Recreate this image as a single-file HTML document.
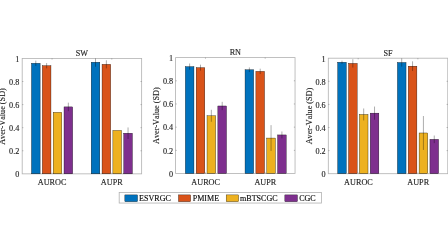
<!DOCTYPE html>
<html><head><meta charset="utf-8"><title>Chart</title>
<style>html,body{margin:0;padding:0;background:#fff;}body{width:448px;height:252px;overflow:hidden;}svg{display:block;}</style>
</head><body>
<svg width="448" height="252" viewBox="0 0 448 252" font-family="'Liberation Serif', serif" font-size="8.2" fill="#262626" style="font-kerning:none" stroke="none">
<rect width="448" height="252" fill="#fff"/>
<style>text{stroke:#262626;stroke-width:0.14px;stroke-linejoin:round}</style>
<rect x="31.46" y="63.28" width="8.65" height="110.57" fill="#0072BD" stroke="#000" stroke-width="0.33"/>
<rect x="42.31" y="65.70" width="8.65" height="108.15" fill="#D95319" stroke="#000" stroke-width="0.33"/>
<rect x="53.16" y="112.32" width="8.65" height="61.53" fill="#EDB120" stroke="#000" stroke-width="0.33"/>
<rect x="64.01" y="106.90" width="8.65" height="66.95" fill="#7E2F8E" stroke="#000" stroke-width="0.33"/>
<line x1="35.79" y1="60.62" x2="35.79" y2="65.93" stroke="#000" stroke-width="0.33"/>
<line x1="46.64" y1="63.05" x2="46.64" y2="68.36" stroke="#000" stroke-width="0.33"/>
<line x1="68.34" y1="102.63" x2="68.34" y2="111.17" stroke="#000" stroke-width="0.33"/>
<rect x="91.19" y="62.24" width="8.65" height="111.61" fill="#0072BD" stroke="#000" stroke-width="0.33"/>
<rect x="102.04" y="64.32" width="8.65" height="109.53" fill="#D95319" stroke="#000" stroke-width="0.33"/>
<rect x="112.89" y="130.44" width="8.65" height="43.41" fill="#EDB120" stroke="#000" stroke-width="0.33"/>
<rect x="123.74" y="133.21" width="8.65" height="40.64" fill="#7E2F8E" stroke="#000" stroke-width="0.33"/>
<line x1="95.51" y1="58.40" x2="95.51" y2="66.74" stroke="#000" stroke-width="0.33"/>
<line x1="106.36" y1="60.28" x2="106.36" y2="68.36" stroke="#000" stroke-width="0.33"/>
<line x1="128.06" y1="127.44" x2="128.06" y2="138.98" stroke="#000" stroke-width="0.33"/>
<rect x="22.20" y="58.40" width="119.45" height="115.45" fill="none" stroke="#262626" stroke-width="0.8" stroke-opacity="0.36"/>
<text x="19.30" y="177.15" text-anchor="end">0</text>
<line x1="22.20" y1="150.76" x2="23.40" y2="150.76" stroke="#262626" stroke-width="0.8" stroke-opacity="0.36"/>
<line x1="141.65" y1="150.76" x2="140.45" y2="150.76" stroke="#262626" stroke-width="0.8" stroke-opacity="0.36"/>
<text x="19.30" y="154.06" text-anchor="end">0.2</text>
<line x1="22.20" y1="127.67" x2="23.40" y2="127.67" stroke="#262626" stroke-width="0.8" stroke-opacity="0.36"/>
<line x1="141.65" y1="127.67" x2="140.45" y2="127.67" stroke="#262626" stroke-width="0.8" stroke-opacity="0.36"/>
<text x="19.30" y="130.97" text-anchor="end">0.4</text>
<line x1="22.20" y1="104.58" x2="23.40" y2="104.58" stroke="#262626" stroke-width="0.8" stroke-opacity="0.36"/>
<line x1="141.65" y1="104.58" x2="140.45" y2="104.58" stroke="#262626" stroke-width="0.8" stroke-opacity="0.36"/>
<text x="19.30" y="107.88" text-anchor="end">0.6</text>
<line x1="22.20" y1="81.49" x2="23.40" y2="81.49" stroke="#262626" stroke-width="0.8" stroke-opacity="0.36"/>
<line x1="141.65" y1="81.49" x2="140.45" y2="81.49" stroke="#262626" stroke-width="0.8" stroke-opacity="0.36"/>
<text x="19.30" y="84.79" text-anchor="end">0.8</text>
<text x="19.30" y="61.70" text-anchor="end">1</text>
<line x1="52.06" y1="58.40" x2="52.06" y2="59.60" stroke="#262626" stroke-width="0.8" stroke-opacity="0.36"/>
<line x1="52.06" y1="173.85" x2="52.06" y2="172.65" stroke="#262626" stroke-width="0.8" stroke-opacity="0.36"/>
<text x="52.06" y="185.1" text-anchor="middle">AUROC</text>
<line x1="111.79" y1="58.40" x2="111.79" y2="59.60" stroke="#262626" stroke-width="0.8" stroke-opacity="0.36"/>
<line x1="111.79" y1="173.85" x2="111.79" y2="172.65" stroke="#262626" stroke-width="0.8" stroke-opacity="0.36"/>
<text x="111.79" y="185.1" text-anchor="middle">AUPR</text>
<text x="81.92" y="56.0" text-anchor="middle">SW</text>
<text transform="translate(5.25,116.53) rotate(-90)" text-anchor="middle">Aver-Value (SD)</text>
<rect x="185.31" y="66.62" width="8.65" height="106.93" fill="#0072BD" stroke="#000" stroke-width="0.33"/>
<rect x="196.16" y="67.66" width="8.65" height="105.89" fill="#D95319" stroke="#000" stroke-width="0.33"/>
<rect x="207.01" y="115.78" width="8.65" height="57.77" fill="#EDB120" stroke="#000" stroke-width="0.33"/>
<rect x="217.86" y="105.98" width="8.65" height="67.57" fill="#7E2F8E" stroke="#000" stroke-width="0.33"/>
<line x1="189.64" y1="63.51" x2="189.64" y2="69.74" stroke="#000" stroke-width="0.33"/>
<line x1="200.49" y1="64.66" x2="200.49" y2="70.66" stroke="#000" stroke-width="0.33"/>
<line x1="211.34" y1="109.78" x2="211.34" y2="121.79" stroke="#000" stroke-width="0.33"/>
<line x1="222.19" y1="101.82" x2="222.19" y2="110.13" stroke="#000" stroke-width="0.33"/>
<rect x="245.04" y="69.74" width="8.65" height="103.81" fill="#0072BD" stroke="#000" stroke-width="0.33"/>
<rect x="255.89" y="71.36" width="8.65" height="102.19" fill="#D95319" stroke="#000" stroke-width="0.33"/>
<rect x="266.74" y="138.06" width="8.65" height="35.49" fill="#EDB120" stroke="#000" stroke-width="0.33"/>
<rect x="277.59" y="134.94" width="8.65" height="38.61" fill="#7E2F8E" stroke="#000" stroke-width="0.33"/>
<line x1="249.36" y1="67.43" x2="249.36" y2="72.05" stroke="#000" stroke-width="0.33"/>
<line x1="260.21" y1="68.70" x2="260.21" y2="74.01" stroke="#000" stroke-width="0.33"/>
<line x1="271.06" y1="125.13" x2="271.06" y2="150.98" stroke="#000" stroke-width="0.33"/>
<line x1="281.91" y1="131.48" x2="281.91" y2="138.40" stroke="#000" stroke-width="0.33"/>
<rect x="175.60" y="57.60" width="119.45" height="115.95" fill="none" stroke="#262626" stroke-width="0.8" stroke-opacity="0.36"/>
<text x="173.20" y="176.85" text-anchor="end">0</text>
<line x1="175.60" y1="150.36" x2="176.80" y2="150.36" stroke="#262626" stroke-width="0.8" stroke-opacity="0.36"/>
<line x1="295.05" y1="150.36" x2="293.85" y2="150.36" stroke="#262626" stroke-width="0.8" stroke-opacity="0.36"/>
<text x="173.20" y="153.66" text-anchor="end">0.2</text>
<line x1="175.60" y1="127.17" x2="176.80" y2="127.17" stroke="#262626" stroke-width="0.8" stroke-opacity="0.36"/>
<line x1="295.05" y1="127.17" x2="293.85" y2="127.17" stroke="#262626" stroke-width="0.8" stroke-opacity="0.36"/>
<text x="173.20" y="130.47" text-anchor="end">0.4</text>
<line x1="175.60" y1="103.98" x2="176.80" y2="103.98" stroke="#262626" stroke-width="0.8" stroke-opacity="0.36"/>
<line x1="295.05" y1="103.98" x2="293.85" y2="103.98" stroke="#262626" stroke-width="0.8" stroke-opacity="0.36"/>
<text x="173.20" y="107.28" text-anchor="end">0.6</text>
<line x1="175.60" y1="80.79" x2="176.80" y2="80.79" stroke="#262626" stroke-width="0.8" stroke-opacity="0.36"/>
<line x1="295.05" y1="80.79" x2="293.85" y2="80.79" stroke="#262626" stroke-width="0.8" stroke-opacity="0.36"/>
<text x="173.20" y="84.09" text-anchor="end">0.8</text>
<text x="173.20" y="60.90" text-anchor="end">1</text>
<line x1="205.46" y1="57.60" x2="205.46" y2="58.80" stroke="#262626" stroke-width="0.8" stroke-opacity="0.36"/>
<line x1="205.46" y1="173.55" x2="205.46" y2="172.35" stroke="#262626" stroke-width="0.8" stroke-opacity="0.36"/>
<text x="205.66" y="184.7" text-anchor="middle">AUROC</text>
<line x1="265.19" y1="57.60" x2="265.19" y2="58.80" stroke="#262626" stroke-width="0.8" stroke-opacity="0.36"/>
<line x1="265.19" y1="173.55" x2="265.19" y2="172.35" stroke="#262626" stroke-width="0.8" stroke-opacity="0.36"/>
<text x="265.39" y="184.7" text-anchor="middle">AUPR</text>
<text x="235.32" y="55.45" text-anchor="middle">RN</text>
<text transform="translate(159.20,115.68) rotate(-90)" text-anchor="middle">Aver-Value (SD)</text>
<rect x="337.66" y="62.24" width="8.65" height="111.46" fill="#0072BD" stroke="#000" stroke-width="0.33"/>
<rect x="348.51" y="63.39" width="8.65" height="110.31" fill="#D95319" stroke="#000" stroke-width="0.33"/>
<rect x="359.36" y="114.46" width="8.65" height="59.24" fill="#EDB120" stroke="#000" stroke-width="0.33"/>
<rect x="370.21" y="113.13" width="8.65" height="60.57" fill="#7E2F8E" stroke="#000" stroke-width="0.33"/>
<line x1="341.99" y1="60.62" x2="341.99" y2="63.85" stroke="#000" stroke-width="0.33"/>
<line x1="352.84" y1="59.24" x2="352.84" y2="67.55" stroke="#000" stroke-width="0.33"/>
<line x1="363.69" y1="108.46" x2="363.69" y2="120.46" stroke="#000" stroke-width="0.33"/>
<line x1="374.54" y1="106.55" x2="374.54" y2="119.71" stroke="#000" stroke-width="0.33"/>
<rect x="397.39" y="62.47" width="8.65" height="111.23" fill="#0072BD" stroke="#000" stroke-width="0.33"/>
<rect x="408.24" y="66.16" width="8.65" height="107.54" fill="#D95319" stroke="#000" stroke-width="0.33"/>
<rect x="419.09" y="132.98" width="8.65" height="40.72" fill="#EDB120" stroke="#000" stroke-width="0.33"/>
<rect x="429.94" y="139.33" width="8.65" height="34.37" fill="#7E2F8E" stroke="#000" stroke-width="0.33"/>
<line x1="401.71" y1="58.32" x2="401.71" y2="66.62" stroke="#000" stroke-width="0.33"/>
<line x1="412.56" y1="61.32" x2="412.56" y2="71.01" stroke="#000" stroke-width="0.33"/>
<line x1="423.41" y1="116.02" x2="423.41" y2="149.94" stroke="#000" stroke-width="0.33"/>
<line x1="434.26" y1="135.52" x2="434.26" y2="143.13" stroke="#000" stroke-width="0.33"/>
<rect x="328.30" y="58.20" width="119.45" height="115.50" fill="none" stroke="#262626" stroke-width="0.8" stroke-opacity="0.36"/>
<text x="325.70" y="177.00" text-anchor="end">0</text>
<line x1="328.30" y1="150.60" x2="329.50" y2="150.60" stroke="#262626" stroke-width="0.8" stroke-opacity="0.36"/>
<line x1="447.75" y1="150.60" x2="446.55" y2="150.60" stroke="#262626" stroke-width="0.8" stroke-opacity="0.36"/>
<text x="325.70" y="153.90" text-anchor="end">0.2</text>
<line x1="328.30" y1="127.50" x2="329.50" y2="127.50" stroke="#262626" stroke-width="0.8" stroke-opacity="0.36"/>
<line x1="447.75" y1="127.50" x2="446.55" y2="127.50" stroke="#262626" stroke-width="0.8" stroke-opacity="0.36"/>
<text x="325.70" y="130.80" text-anchor="end">0.4</text>
<line x1="328.30" y1="104.40" x2="329.50" y2="104.40" stroke="#262626" stroke-width="0.8" stroke-opacity="0.36"/>
<line x1="447.75" y1="104.40" x2="446.55" y2="104.40" stroke="#262626" stroke-width="0.8" stroke-opacity="0.36"/>
<text x="325.70" y="107.70" text-anchor="end">0.6</text>
<line x1="328.30" y1="81.30" x2="329.50" y2="81.30" stroke="#262626" stroke-width="0.8" stroke-opacity="0.36"/>
<line x1="447.75" y1="81.30" x2="446.55" y2="81.30" stroke="#262626" stroke-width="0.8" stroke-opacity="0.36"/>
<text x="325.70" y="84.60" text-anchor="end">0.8</text>
<text x="325.70" y="61.50" text-anchor="end">1</text>
<line x1="358.16" y1="58.20" x2="358.16" y2="59.40" stroke="#262626" stroke-width="0.8" stroke-opacity="0.36"/>
<line x1="358.16" y1="173.70" x2="358.16" y2="172.50" stroke="#262626" stroke-width="0.8" stroke-opacity="0.36"/>
<text x="358.46" y="184.7" text-anchor="middle">AUROC</text>
<line x1="417.89" y1="58.20" x2="417.89" y2="59.40" stroke="#262626" stroke-width="0.8" stroke-opacity="0.36"/>
<line x1="417.89" y1="173.70" x2="417.89" y2="172.50" stroke="#262626" stroke-width="0.8" stroke-opacity="0.36"/>
<text x="418.19" y="184.7" text-anchor="middle">AUPR</text>
<text x="388.03" y="55.6" text-anchor="middle">SF</text>
<text transform="translate(311.90,116.05) rotate(-90)" text-anchor="middle">Aver-Value (SD)</text>
<rect x="119.2" y="192.5" width="202.2" height="10.55" fill="#fff" stroke="#262626" stroke-width="0.8" stroke-opacity="0.36"/>
<rect x="124.85" y="194.9" width="12.70" height="6.8" fill="#0072BD" stroke="#000" stroke-width="0.33"/>
<text x="139.10" y="201.1" font-size="8.05" fill="#000">ESVRGC</text>
<rect x="178.45" y="194.9" width="12.20" height="6.8" fill="#D95319" stroke="#000" stroke-width="0.33"/>
<text x="192.70" y="201.1" font-size="8.05" fill="#000">PMIME</text>
<rect x="226.15" y="194.9" width="12.50" height="6.8" fill="#EDB120" stroke="#000" stroke-width="0.33"/>
<text x="240.00" y="201.1" font-size="8.05" fill="#000">mBTSCGC</text>
<rect x="284.85" y="194.9" width="12.60" height="6.8" fill="#7E2F8E" stroke="#000" stroke-width="0.33"/>
<text x="299.20" y="201.1" font-size="8.05" fill="#000">CGC</text>
</svg>
</body></html>
